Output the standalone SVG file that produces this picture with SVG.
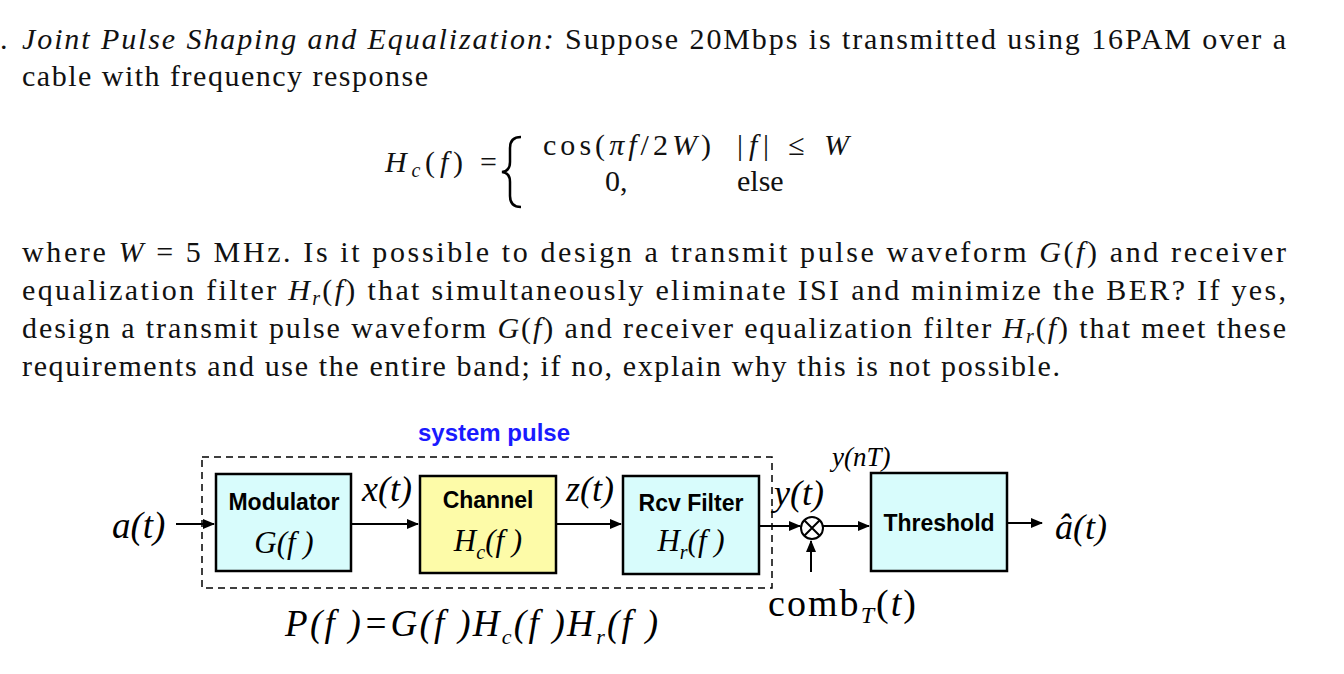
<svg xmlns="http://www.w3.org/2000/svg" width="1344" height="674" viewBox="0 0 1344 674">
<style>
.t{font-family:"Liberation Serif",serif;font-size:30px;fill:#111}
.i{font-style:italic}
.m{font-family:"Liberation Serif",serif;font-style:italic;fill:#000}
.b{font-family:"Liberation Sans",Arial,sans-serif;font-weight:bold;font-size:23px;fill:#000}
.box{stroke:#000;stroke-width:2.5}
.ln{stroke:#000;stroke-width:2;fill:none}
</style>
<defs><marker id="ah" markerWidth="12" markerHeight="10" refX="11" refY="5" orient="auto" markerUnits="userSpaceOnUse"><path d="M0,0 L12,5 L0,10 z" fill="#000"/></marker></defs>
<rect width="1344" height="674" fill="#fff"/>
<text class="t" x="0" y="49">.</text>
<text class="t" x="22" y="49" textLength="1264" lengthAdjust="spacing"><tspan class="i">Joint Pulse Shaping and Equalization:</tspan> Suppose 20Mbps is transmitted using 16PAM over a</text>
<text class="t" x="22" y="86" textLength="406" lengthAdjust="spacing">cable with frequency response</text>
<text class="t" x="385" y="172" textLength="112" lengthAdjust="spacing"><tspan class="i">H</tspan><tspan font-size="20" class="i" dy="5">c</tspan><tspan dy="-5">(</tspan><tspan class="i">f</tspan>) =</text>
<path d="M521,137 Q510,137 510,148 L510,162 Q510,171 502,172 Q510,173 510,182 L510,196 Q510,207 521,207" fill="none" stroke="#000" stroke-width="2.5"/>
<text class="t" x="543" y="155" textLength="168" lengthAdjust="spacing">cos(<tspan class="i">πf</tspan>/2<tspan class="i">W</tspan>)</text>
<text class="t" x="737" y="155" textLength="112" lengthAdjust="spacing">|<tspan class="i">f</tspan>| ≤ <tspan class="i">W</tspan></text>
<text class="t" x="605" y="191">0,</text>
<text class="t" x="737" y="191">else</text>
<text class="t" x="22" y="262" textLength="1264" lengthAdjust="spacing">where <tspan class="i">W</tspan> = 5 MHz. Is it possible to design a transmit pulse waveform <tspan class="i">G</tspan>(<tspan class="i">f</tspan>) and receiver</text>
<text class="t" x="22" y="300" textLength="1264" lengthAdjust="spacing">equalization filter <tspan class="i">H</tspan><tspan font-size="20" class="i" dy="5">r</tspan><tspan dy="-5">(</tspan><tspan class="i">f</tspan>) that simultaneously eliminate ISI and minimize the BER? If yes,</text>
<text class="t" x="22" y="338" textLength="1264" lengthAdjust="spacing">design a transmit pulse waveform <tspan class="i">G</tspan>(<tspan class="i">f</tspan>) and receiver equalization filter <tspan class="i">H</tspan><tspan font-size="20" class="i" dy="5">r</tspan><tspan dy="-5">(</tspan><tspan class="i">f</tspan>) that meet these</text>
<text class="t" x="22" y="376" textLength="1038" lengthAdjust="spacing">requirements and use the entire band; if no, explain why this is not possible.</text>

<text x="494" y="441" text-anchor="middle" font-family="Liberation Sans,Arial,sans-serif" font-weight="bold" font-size="24" fill="#1a1aff">system pulse</text>
<rect x="202" y="457" width="570" height="131" fill="none" stroke="#000" stroke-width="1.5" stroke-dasharray="7,5"/>

<g id="modulator"><rect class="box" x="216" y="474" width="135" height="97" fill="#d8fcfc"/>
<text class="b" x="284" y="510" text-anchor="middle">Modulator</text>
<text class="m" x="284" y="553" font-size="31" text-anchor="middle">G(f )</text></g>
<g id="channel"><rect class="box" x="420" y="476" width="136" height="97" fill="#fdfba8"/>
<text class="b" x="488" y="508" text-anchor="middle">Channel</text>
<text class="m" x="488" y="551" font-size="31" text-anchor="middle">H<tspan font-size="20" dy="8">c</tspan><tspan dy="-8">(f )</tspan></text></g>
<g id="rcvfilter"><rect class="box" x="623" y="476" width="136" height="98" fill="#d8fcfc"/>
<text class="b" x="691" y="511" text-anchor="middle">Rcv Filter</text>
<text class="m" x="691" y="551" font-size="31" text-anchor="middle">H<tspan font-size="20" dy="8">r</tspan><tspan dy="-8">(f )</tspan></text></g>
<g id="mixer"><circle cx="812" cy="528" r="11" fill="#fff" stroke="#000" stroke-width="2"/>
<path class="ln" d="M804,520 L820,536 M820,520 L804,536"/></g>
<g id="threshold"><rect class="box" x="871" y="473" width="136" height="98" fill="#d8fcfc"/>
<text class="b" x="939" y="531" text-anchor="middle">Threshold</text></g>

<g id="connectors">
<line class="ln" x1="176" y1="524" x2="214" y2="524" marker-end="url(#ah)"/>
<line class="ln" x1="351" y1="524" x2="418" y2="524" marker-end="url(#ah)"/>
<line class="ln" x1="556" y1="524" x2="621" y2="524" marker-end="url(#ah)"/>
<line class="ln" x1="759" y1="526" x2="800" y2="526" marker-end="url(#ah)"/>
<line class="ln" x1="823" y1="526" x2="869" y2="526" marker-end="url(#ah)"/>
<line class="ln" x1="811" y1="572" x2="811" y2="541" marker-end="url(#ah)"/>
<line class="ln" x1="1007" y1="523" x2="1042" y2="523" marker-end="url(#ah)"/>
</g>

<text class="m" x="112" y="538" font-size="37">a(t)</text>
<text class="m" x="362" y="501" font-size="36">x(t)</text>
<text class="m" x="566" y="501" font-size="36">z(t)</text>
<text class="m" x="774" y="505" font-size="36">y(t)</text>
<text class="m" x="832" y="466" font-size="27">y(nT)</text>
<text class="m" x="1055" y="539" font-size="36">â(t)</text>
<text x="768" y="616" font-family="Liberation Serif,serif" font-size="38" textLength="148" lengthAdjust="spacing">comb<tspan class="i" font-size="24" dy="7">T</tspan><tspan dy="-7">(</tspan><tspan class="i">t</tspan>)</text>
<text class="m" x="285" y="636" font-size="37" textLength="373" lengthAdjust="spacing">P(f )=G(f )H<tspan font-size="22" dy="8">c</tspan><tspan dy="-8">(f )H</tspan><tspan font-size="22" dy="8">r</tspan><tspan dy="-8">(f )</tspan></text>
</svg>
